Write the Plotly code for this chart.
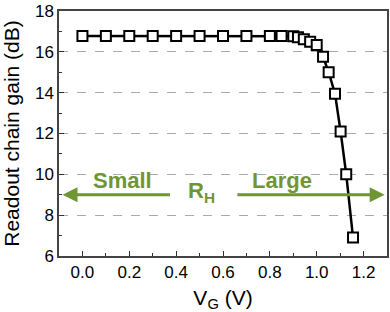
import plotly.graph_objects as go

vg = [0.0, 0.1, 0.2, 0.3, 0.4, 0.5, 0.6, 0.7, 0.8, 0.85, 0.9, 0.92, 0.945, 0.972, 1.0,
      1.027, 1.051, 1.078, 1.102, 1.126, 1.155]
gain = [16.77, 16.77, 16.77, 16.77, 16.77, 16.77, 16.77, 16.77, 16.77, 16.77, 16.76, 16.71,
        16.62, 16.5, 16.33, 15.76, 15.0, 13.95, 12.1, 10.0, 6.9]

green = "#6f9632"
font_family = "Arial, Liberation Sans, Helvetica, sans-serif"

fig = go.Figure()
fig.add_trace(go.Scatter(
    x=vg, y=gain, mode="lines+markers",
    line=dict(color="black", width=2.5),
    marker=dict(symbol="square", size=10, color="white", line=dict(color="black", width=2)),
    showlegend=False,
))

# arrows
fig.add_annotation(x=-0.085, y=9, ax=0.38, ay=9, xref="x", yref="y", axref="x", ayref="y",
                   showarrow=True, arrowhead=2, arrowsize=1, arrowwidth=3, arrowcolor=green, text="")
fig.add_annotation(x=1.29, y=9, ax=0.655, ay=9, xref="x", yref="y", axref="x", ayref="y",
                   showarrow=True, arrowhead=2, arrowsize=1, arrowwidth=3, arrowcolor=green, text="")
fig.add_annotation(x=0.17, y=9.7, text="<b>Small</b>", showarrow=False,
                   font=dict(size=22, color=green, family=font_family))
fig.add_annotation(x=0.85, y=9.7, text="<b>Large</b>", showarrow=False,
                   font=dict(size=22, color=green, family=font_family))
fig.add_annotation(x=0.51, y=9.15, text="<b>R<sub>H</sub></b>", showarrow=False,
                   font=dict(size=22, color=green, family=font_family))

fig.update_layout(
    width=390, height=312,
    margin=dict(l=59, r=3, t=11, b=56),
    paper_bgcolor="white", plot_bgcolor="white",
    font=dict(family=font_family, size=17, color="black"),
)
fig.update_xaxes(
    range=[-0.1, 1.3], tickvals=[0, 0.2, 0.4, 0.6, 0.8, 1.0, 1.2],
    ticktext=["0.0", "0.2", "0.4", "0.6", "0.8", "1.0", "1.2"],
    ticks="inside", ticklen=5, tickwidth=1, tickcolor="#333",
    minor=dict(ticks="inside", dtick=0.1, tick0=0, ticklen=3, tickcolor="#333"),
    showline=True, linecolor="#444", linewidth=1.5, mirror=True,
    showgrid=False, zeroline=False, automargin=False,
    title=dict(text="V<sub>G</sub> (V)", font=dict(size=21)),
)
fig.update_yaxes(
    range=[6, 18], tickvals=[6, 8, 10, 12, 14, 16, 18],
    ticks="inside", ticklen=5, tickwidth=1, tickcolor="#333",
    minor=dict(ticks="inside", dtick=1, tick0=6, ticklen=3, tickcolor="#333", showgrid=False),
    showline=True, linecolor="#444", linewidth=1.5, mirror=True,
    showgrid=True, gridcolor="#aaaaaa", griddash="dash", gridwidth=1,
    zeroline=False, automargin=False,
    title=dict(text="Readout chain gain (dB)", font=dict(size=21)),
)

fig.write_html("out.html", config={"displayModeBar": False},
               post_script="document.body.style.margin='0';document.body.style.overflow='hidden';")
